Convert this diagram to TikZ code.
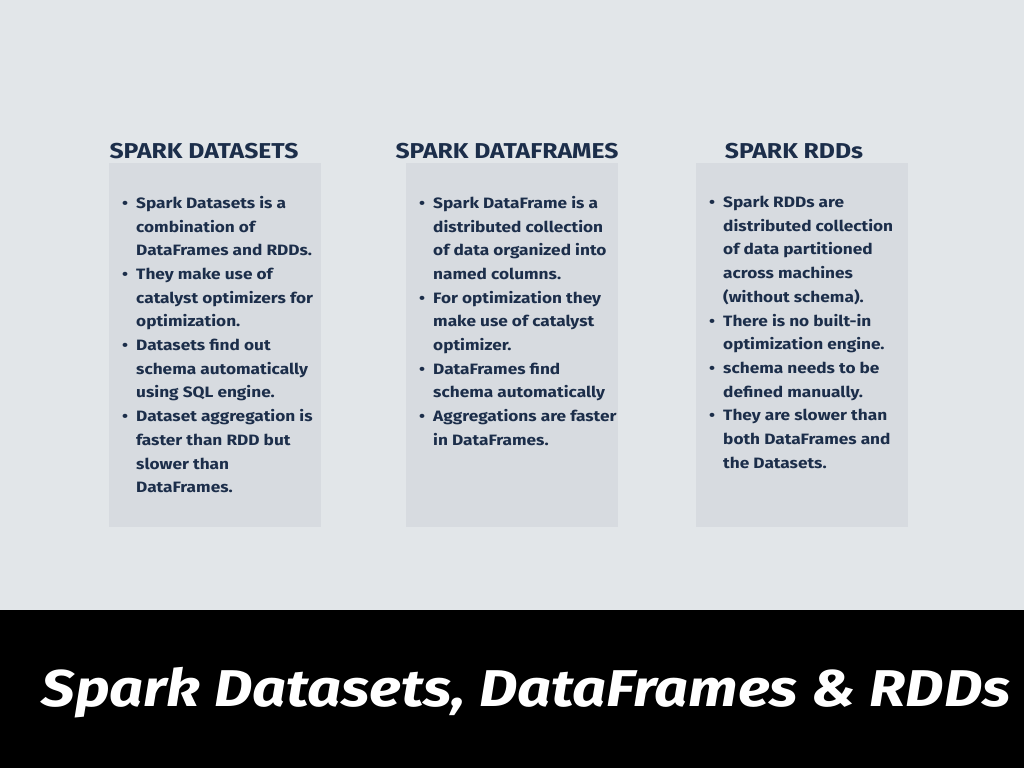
\documentclass[tikz,border=0pt]{standalone}
\usepackage{fontspec}
\setmainfont{Fira Sans}[FakeStretch=1.15]
\definecolor{bg}{HTML}{E2E6E9}
\definecolor{box}{HTML}{D7DBE0}
\definecolor{ink}{HTML}{1C2E4A}
\newcommand{\bl}{\makebox[14pt][l]{\textbullet}}
\newcommand{\ind}{\hspace*{14pt}}
\tikzset{
 col/.style={fill=box,draw=none},
 ttl/.style={font=\fontsize{21.5}{24}\selectfont\bfseries,text=ink,anchor=base},
 body/.style={font=\fontsize{15}{23.7}\selectfont\bfseries,text=ink,anchor=north west,align=left,inner sep=0pt}
}
\begin{document}
\begin{tikzpicture}[x=1pt,y=-1pt]
\fill[bg] (0,0) rectangle (1024,768);
\useasboundingbox (0,0) rectangle (1024,768);
\fill[black] (0,610) rectangle (1024,768);
\fill[col] (109,163) rectangle (321,527);
\fill[col] (406,163) rectangle (618,527);
\fill[col] (696,163) rectangle (908,527);
\node[ttl] (t1) at (204,158) {SPARK DATASETS};
\node[ttl] (t2) at (507,158) {SPARK DATAFRAMES};
\node[ttl] (t3) at (794,158) {SPARK RDDs};
\node[body] (b1) at (122,196) {\bl Spark Datasets is a\\\ind combination of\\\ind DataFrames and RDDs.\\\bl They make use of\\\ind catalyst optimizers for\\\ind optimization.\\\bl Datasets find out\\\ind schema automatically\\\ind using SQL engine.\\\bl Dataset aggregation is\\\ind faster than RDD but\\\ind slower than\\\ind DataFrames.};
\node[body] (b2) at (419,196) {\bl Spark DataFrame is a\\\ind distributed collection\\\ind of data organized into\\\ind named columns.\\\bl For optimization they\\\ind make use of catalyst\\\ind optimizer.\\\bl DataFrames find\\\ind schema automatically\\\bl Aggregations are faster\\\ind in DataFrames.};
\node[body] (b3) at (709,196) {\bl Spark RDDs are\\\ind distributed collection\\\ind of data partitioned\\\ind across machines\\\ind (without schema).\\\bl There is no built-in\\\ind optimization engine.\\\bl schema needs to be\\\ind defined manually.\\\bl They are slower than\\\ind both DataFrames and\\\ind the Datasets.};
\node[font=\fontsize{51.7}{58}\selectfont\bfseries\itshape,text=white,anchor=base] (ft) at (526,706) {Spark Datasets, DataFrames \& RDDs};
\end{tikzpicture}
\end{document}
